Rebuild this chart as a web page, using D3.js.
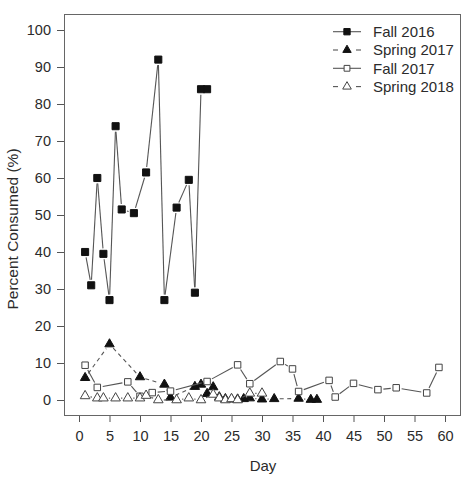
<!DOCTYPE html>
<html>
<head>
<meta charset="utf-8">
<script src="https://cdn.jsdelivr.net/npm/d3@7"></script>
<style>
  html, body { margin: 0; padding: 0; background: #fff; }
  svg { display: block; font-family: "Liberation Sans", Arial, sans-serif; }
</style>
</head>
<body>
<svg id="chart" width="474" height="481"></svg>
<script>
// ---- data ----
const seriesNames = ["Fall 2016", "Spring 2017", "Fall 2017", "Spring 2018"];

const fall2016Days   = [1, 2, 3, 4, 5, 6, 7, 9, 11, 13, 14, 16, 18, 19, 20, 21];
const fall2016Values = [40, 31, 60, 39.5, 27, 74, 51.5, 50.5, 61.5, 92, 27, 52, 59.5, 29, 84, 84];

const spring2017Days   = [1, 5, 10, 14, 15, 19, 20, 21, 22, 23, 24, 25, 26, 27, 28, 30, 32, 36, 38, 39];
const spring2017Values = [6, 15.1, 6.2, 4.2, 0.7, 3.6, 4.2, 1.7, 3.5, 0.8, 0.3, 0.2, 0.2, 0.3, 0.5, 0.2, 0.3, 0.4, 0.1, 0.1];

const fall2017Days   = [1, 3, 8, 10, 12, 15, 21, 26, 28, 33, 35, 36, 41, 42, 45, 49, 52, 57, 59];
const fall2017Values = [9.4, 3.4, 4.9, 1.0, 2.0, 2.4, 5.0, 9.5, 4.4, 10.4, 8.4, 2.3, 5.3, 0.8, 4.5, 2.8, 3.3, 1.9, 8.8];

const spring2018Days   = [1, 3, 4, 6, 8, 10, 11, 13, 16, 18, 20, 22, 23, 24, 25, 26, 28, 30];
const spring2018Values = [1.1, 0.5, 0.5, 0.5, 0.5, 0.5, 1.2, 0, 0, 0.5, 0, 1.5, 0.5, 0, 0.3, 0, 1.8, 1.8];

const xTicks = [0, 5, 10, 15, 20, 25, 30, 35, 40, 45, 50, 55, 60];
const yTicks = [0, 10, 20, 30, 40, 50, 60, 70, 80, 90, 100];
const xLabel = "Day";
const yLabel = "Percent Consumed (%)";

// ---- setup ----
const svg = d3.select("#chart");
const box = { left: 64, right: 460, top: 14, bottom: 415 };
const x = d3.scaleLinear().domain([0, 60]).range([79, 445]);
const y = d3.scaleLinear().domain([0, 100]).range([400, 30]);

const ink = "#2b2b2b";
const lineCol = "#555";

const series = [
  { name: seriesNames[0], days: fall2016Days,   vals: fall2016Values,   shape: d3.symbolSquare,   size: 50, filled: true,  dashed: false },
  { name: seriesNames[1], days: spring2017Days, vals: spring2017Values, shape: d3.symbolTriangle, size: 38, filled: true,  dashed: true  },
  { name: seriesNames[2], days: fall2017Days,   vals: fall2017Values,   shape: d3.symbolSquare,   size: 42, filled: false, dashed: false },
  { name: seriesNames[3], days: spring2018Days, vals: spring2018Values, shape: d3.symbolTriangle, size: 40, filled: false, dashed: true  }
];

// ---- axes ----
const xAxis = svg.append("g")
  .attr("transform", `translate(0,${box.bottom})`)
  .call(d3.axisBottom(x).tickValues(xTicks).tickSize(7).tickPadding(9));
const yAxis = svg.append("g")
  .attr("transform", `translate(${box.left},0)`)
  .call(d3.axisLeft(y).tickValues(yTicks).tickSize(7).tickPadding(6));
[xAxis, yAxis].forEach(g => {
  g.select(".domain").remove();
  g.selectAll("line").attr("stroke", "#555");
  g.selectAll("text").attr("fill", ink).style("font-size", "14.5px")
    .style("font-family", "Liberation Sans, Arial, sans-serif");
});

// plot box
svg.append("rect")
  .attr("x", box.left + 0.5).attr("y", box.top + 0.5)
  .attr("width", box.right - box.left).attr("height", box.bottom - box.top)
  .attr("fill", "none").attr("stroke", "#666").attr("stroke-width", 1);

// axis titles
svg.append("text")
  .attr("x", (box.left + box.right) / 2 + 1).attr("y", 471)
  .attr("text-anchor", "middle").attr("fill", ink)
  .style("font-size", "15px").text(xLabel);
svg.append("text")
  .attr("transform", "translate(18,229) rotate(-90)")
  .attr("text-anchor", "middle").attr("fill", ink)
  .style("font-size", "15.5px").text(yLabel);

// ---- series ----
const gap = 5.5;
function gappedSegments(pts) {
  const segs = [];
  for (let i = 0; i < pts.length - 1; i++) {
    const [x1, y1] = pts[i], [x2, y2] = pts[i + 1];
    const dx = x2 - x1, dy = y2 - y1, L = Math.hypot(dx, dy);
    if (L <= 2 * gap + 1) continue;
    const ux = dx / L, uy = dy / L;
    segs.push([x1 + ux * gap, y1 + uy * gap, x2 - ux * gap, y2 - uy * gap]);
  }
  return segs;
}

series.forEach(s => {
  const pts = s.days.map((d, i) => [x(d), y(s.vals[i])]);
  const g = svg.append("g");
  g.selectAll("line").data(gappedSegments(pts)).join("line")
    .attr("x1", d => d[0]).attr("y1", d => d[1])
    .attr("x2", d => d[2]).attr("y2", d => d[3])
    .attr("stroke", lineCol).attr("stroke-width", 1.1)
    .attr("stroke-dasharray", s.dashed ? "4,3.5" : null);
  g.selectAll("path").data(pts).join("path")
    .attr("transform", d => `translate(${d[0]},${d[1]})`)
    .attr("d", d3.symbol().type(s.shape).size(s.size))
    .attr("fill", s.filled ? "#111" : "#fff")
    .attr("stroke", s.filled ? "#111" : "#444")
    .attr("stroke-width", 1);
});

// ---- legend ----
const legendRowsY = [31.7, 50, 68.3, 86.6];
const leg = svg.append("g");
series.forEach((s, i) => {
  const cy = legendRowsY[i];
  if (s.dashed) {
    leg.append("line").attr("x1", 333).attr("x2", 338).attr("y1", cy).attr("y2", cy)
      .attr("stroke", lineCol).attr("stroke-width", 1.1);
    leg.append("line").attr("x1", 356).attr("x2", 361).attr("y1", cy).attr("y2", cy)
      .attr("stroke", lineCol).attr("stroke-width", 1.1);
  } else {
    leg.append("line").attr("x1", 333).attr("x2", 361).attr("y1", cy).attr("y2", cy)
      .attr("stroke", lineCol).attr("stroke-width", 1.1);
  }
  leg.append("path")
    .attr("transform", `translate(347,${cy})`)
    .attr("d", d3.symbol().type(s.shape).size(s.size * 0.8))
    .attr("fill", s.filled ? "#111" : "#fff")
    .attr("stroke", s.filled ? "#111" : "#444");
  leg.append("text").attr("x", 373).attr("y", cy).attr("dy", "0.36em")
    .attr("fill", ink).style("font-size", "15px").text(s.name);
});
</script>
</body>
</html>
